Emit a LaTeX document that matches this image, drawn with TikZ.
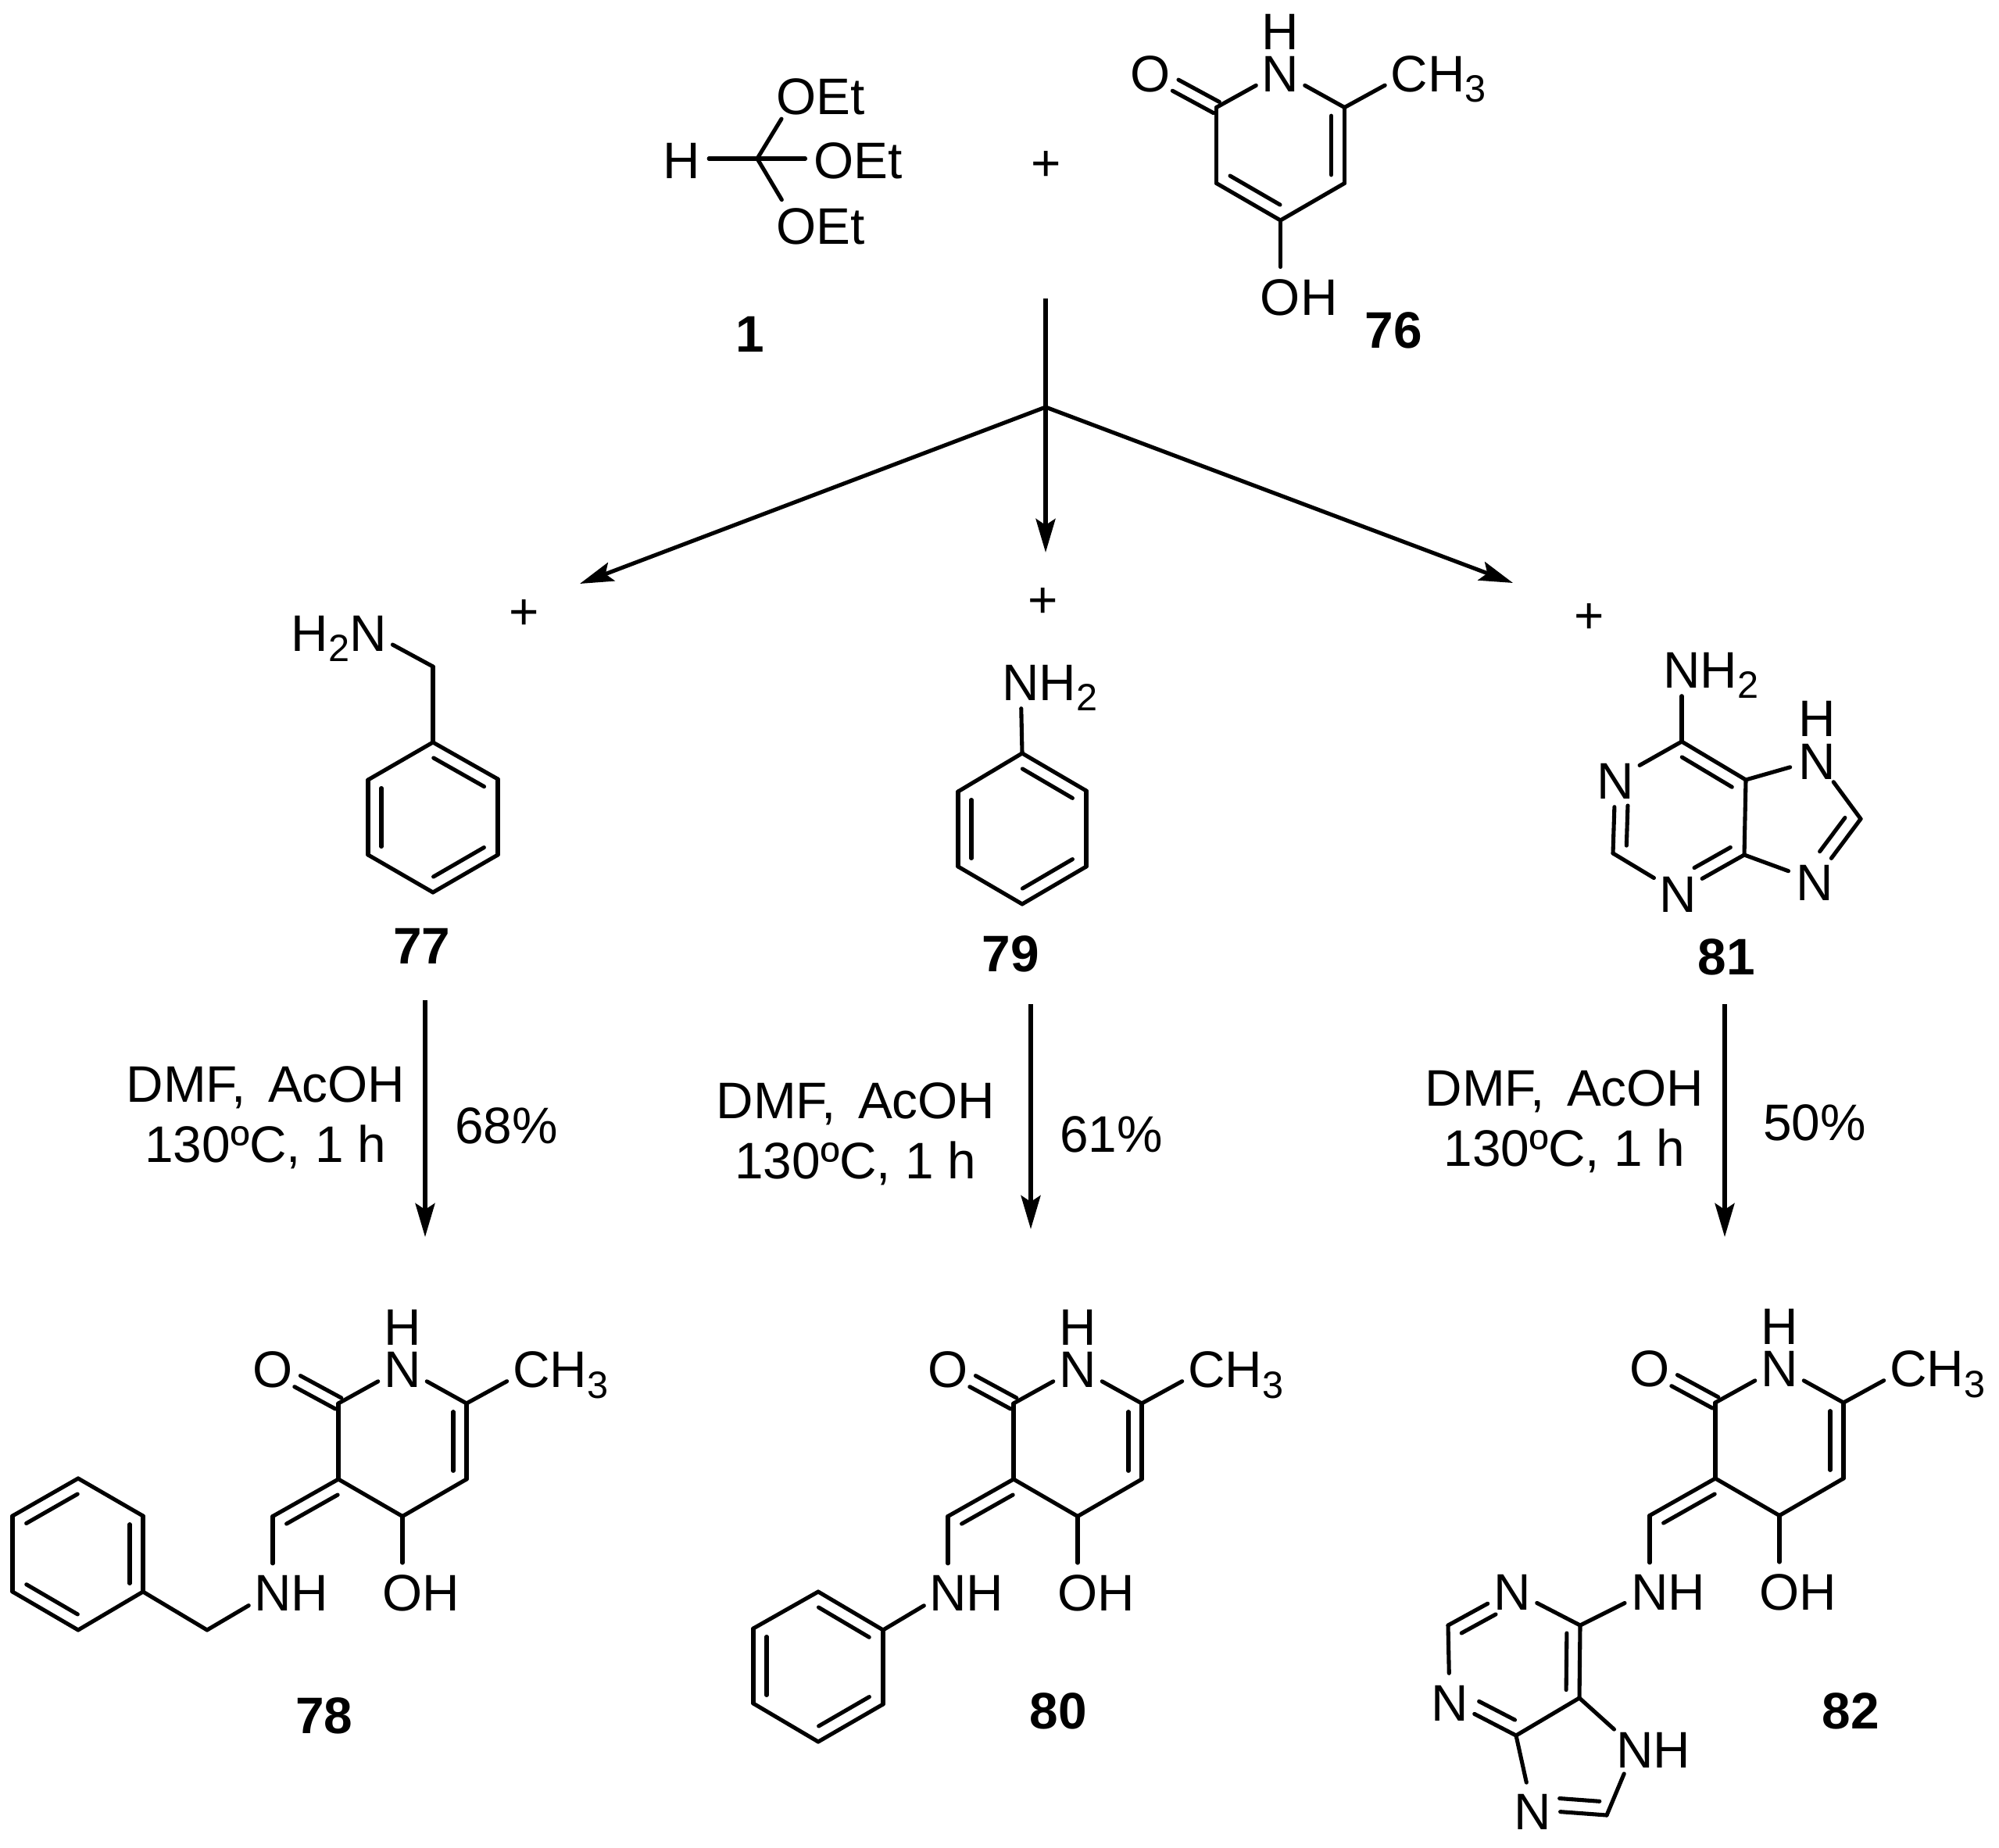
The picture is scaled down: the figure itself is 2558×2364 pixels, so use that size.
\documentclass[tikz,border=0pt]{standalone}
\usepackage{fontspec}
\setmainfont{Liberation Sans}
\usetikzlibrary{arrows.meta,calc}
\newcommand{\atomtail}[1]{\rlap{\smash{#1}}}
\newcommand{\atomhead}[1]{\llap{\smash{#1}}}
\newcommand{\atomsub}[1]{\raisebox{-0.21em}{\scalebox{0.74}{#1}}}
\newcommand{\innerbond}[3][]{\path ($(#2)!0.11!(#3)!1.7mm!90:(#3)$) edge[bond,#1] ($(#3)!0.11!(#2)!1.7mm!-90:(#2)$);}
\tikzset{
    %Define standard arrow tip
    >={Stealth[length=4.3mm,width=2.5mm,inset=0.8mm]},
    %Define style for atoms and labels
    atom/.style={
             circle, inner sep=0pt, minimum size=7mm,
             text height=5mm, text depth=0pt,
             font=\fontsize{18.7}{21.5}\selectfont},
    plain/.style={
             inner sep=0pt,
             text height=5mm, text depth=0pt,
             font=\fontsize{18.7}{21.5}\selectfont},
    cpdlabel/.style={
             inner sep=0pt,
             text height=5mm, text depth=0pt,
             font=\fontsize{18.7}{21.5}\selectfont\bfseries},
    condlabel/.style={
             inner sep=0pt, align=center,
             font=\fontsize{18.7}{22}\selectfont},
    % Define bond and arrow style
    bond/.style={
            line width=1.45pt,
            line cap=round},
    fromhetero/.style={shorten <=2.3mm},
    reactline/.style={
            line width=1.45pt},
    reactarrow/.style={
            ->,
            line width=1.45pt},
    % Define repeating ring
    pyridone/.pic={
        \coordinate (-c2) at (-82,-48.5);
        \coordinate (-c3) at (-82,48.5);
        \coordinate (-c4) at (0,96);
        \coordinate (-c5) at (82,48.5);
        \coordinate (-c6) at (82,-48.5);
        \node[atom] (-n1) at (0,-94) {N};
        \node[plain] (-h1) at (0,-148) {H};
        \node[atom] (-o2) at (-166,-94) {O};
        \node[atom] (-me) at (165,-94) {C\atomtail{H\atomsub{3}}};
        \node[atom] (-oh) at (0,192) {O\atomtail{H}};
        \path (-c2) edge[bond] (-c3)
              (-c3) edge[bond] (-c4)
              (-c4) edge[bond] (-c5)
              (-c5) edge[bond] (-c6)
              (-c6) edge[bond] (-n1)
              (-c2) edge[bond] (-n1)
              (-c6) edge[bond] (-me)
              (-c4) edge[bond] (-oh);
        \innerbond{-c5}{-c6}
        \path ($(-c2)!0.8mm!90:(-o2)$) edge[bond,shorten >=3.6mm] ($(-o2)!0.8mm!-90:(-c2)$)
              ($(-c2)!0.8mm!-90:(-o2)$) edge[bond,shorten >=3.6mm] ($(-o2)!0.8mm!90:(-c2)$);
    },
    enamine/.pic={
        \coordinate (-exo) at (-166,96);
        \node[atom] (-nh) at (-166,192) {N\atomtail{H}};
        \path (-c3) edge[bond] (-exo)
              (-exo) edge[bond] (-nh);
        \innerbond{-c3}{-exo}
    }
}
\begin{document}
\begin{tikzpicture}[x=0.01cm, y=-0.01cm]
 \useasboundingbox (0,0) rectangle (2558,2364);
 %top row
 \coordinate (ch) at (969,203);
 \node[atom, minimum size=5.4mm] (hc) at (872,203) {H};
 \node[atom] (oet1) at (1019,121) {O\atomtail{Et}};
 \node[atom] (oet2) at (1067,203) {O\atomtail{Et}};
 \node[atom] (oet3) at (1019,287) {O\atomtail{Et}};
 \node[cpdlabel] (cpd1) at (960,425) {1};
 \node[plain] (plustop) at (1339,206) {+};
 \pic (p76) at (1638.5,186) {pyridone};
 \node[cpdlabel] (cpd76) at (1783,420) {76};
 \path (ch) edge[bond] (hc)
       (ch) edge[bond] (oet1)
       (ch) edge[bond] (oet2)
       (ch) edge[bond] (oet3);
 \innerbond{p76-c3}{p76-c4}
 %branching arrows
 \coordinate (stem) at (1338,382);
 \coordinate (fork) at (1338,521);
 \coordinate (tipleft) at (742,747);
 \coordinate (tipmid) at (1338,707);
 \coordinate (tipright) at (1936,746);
 \path (stem) edge[reactline] (fork)
       (fork) edge[reactarrow] (tipleft)
       (fork) edge[reactarrow] (tipmid)
       (fork) edge[reactarrow] (tipright);
 \node[plain] (plusleft) at (671,780) {+};
 \node[plain] (plusmid) at (1335,765) {+};
 \node[plain] (plusright) at (2034,785) {+};
 %benzylamine
 \node[atom] (n77) at (471,808) {\atomhead{H\atomsub{2}}N};
 \coordinate (ch77) at (554,853);
 \coordinate (a771) at (554,950);
 \coordinate (a772) at (637,997);
 \coordinate (a773) at (637,1094);
 \coordinate (a774) at (554,1142);
 \coordinate (a775) at (471,1094);
 \coordinate (a776) at (471,998);
 \node[cpdlabel] (cpd77) at (540,1208) {77};
 \path (n77) edge[bond] (ch77)
       (ch77) edge[bond] (a771)
       (a771) edge[bond] (a772)
       (a772) edge[bond] (a773)
       (a773) edge[bond] (a774)
       (a774) edge[bond] (a775)
       (a775) edge[bond] (a776)
       (a776) edge[bond] (a771);
 \innerbond{a772}{a771}
 \innerbond{a776}{a775}
 \innerbond{a774}{a773}
 %aniline
 \node[atom] (n79) at (1306,871) {N\atomtail{H\atomsub{2}}};
 \coordinate (a791) at (1308,964);
 \coordinate (a792) at (1390,1012);
 \coordinate (a793) at (1390,1109);
 \coordinate (a794) at (1308,1157);
 \coordinate (a795) at (1226,1109);
 \coordinate (a796) at (1226,1013);
 \node[cpdlabel] (cpd79) at (1293,1218) {79};
 \path (a791) edge[bond] (n79)
       (a791) edge[bond] (a792)
       (a792) edge[bond] (a793)
       (a793) edge[bond] (a794)
       (a794) edge[bond] (a795)
       (a795) edge[bond] (a796)
       (a796) edge[bond] (a791);
 \innerbond{a792}{a791}
 \innerbond{a796}{a795}
 \innerbond{a794}{a793}
 %adenine
 \node[atom] (n81) at (2152,855) {N\atomtail{H\atomsub{2}}};
 \coordinate (c816) at (2152,949);
 \node[atom] (n811) at (2067,997) {N};
 \coordinate (c812) at (2064,1092);
 \node[atom] (n813) at (2147,1142) {N};
 \coordinate (c814) at (2232,1094);
 \coordinate (c815) at (2234,998);
 \node[atom] (n817) at (2325,972) {N};
 \node[plain] (h817) at (2325,917) {H};
 \coordinate (c818) at (2381,1048);
 \node[atom] (n819) at (2322,1127) {N};
 \node[cpdlabel] (cpd81) at (2209,1222) {81};
 \path (c816) edge[bond] (n81)
       (c816) edge[bond] (n811)
       (n811) edge[bond] (c812)
       (c812) edge[bond] (n813)
       (n813) edge[bond] (c814)
       (c814) edge[bond] (c815)
       (c815) edge[bond] (c816)
       (c815) edge[bond] (n817)
       (n817) edge[bond] (c818)
       (c818) edge[bond] (n819)
       (n819) edge[bond] (c814);
 \innerbond{c815}{c816}
 \innerbond[fromhetero]{n811}{c812}
 \innerbond[fromhetero]{n813}{c814}
 \innerbond[fromhetero]{n819}{c818}
 %reaction arrows
 \coordinate (start78) at (544,1280);
 \coordinate (end78) at (544,1583);
 \coordinate (start80) at (1319,1285);
 \coordinate (end80) at (1319,1573);
 \coordinate (start82) at (2207,1285);
 \coordinate (end82) at (2207,1583);
 \path (start78) edge[reactarrow] (end78)
       (start80) edge[reactarrow] (end80)
       (start82) edge[reactarrow] (end82);
 \node[condlabel] (cond78) at (340,1430) {DMF,\hspace{0.15em} AcOH\\130ºC, 1 h};
 \node[condlabel] (cond80) at (1095,1451) {DMF,\hspace{0.15em} AcOH\\130ºC, 1 h};
 \node[condlabel] (cond82) at (2002,1435) {DMF,\hspace{0.15em} AcOH\\130ºC, 1 h};
 \node[plain] (yield78) at (648,1438) {68\%};
 \node[plain] (yield80) at (1422,1449) {61\%};
 \node[plain] (yield82) at (2322,1434) {50\%};
 %product 78
 \pic (p78) at (515,1844.5) {pyridone};
 \pic (p78) at (515,1844.5) {enamine};
 \coordinate (ch78) at (265,2086);
 \coordinate (b781) at (183,2037);
 \coordinate (b782) at (183,1940);
 \coordinate (b783) at (100,1892);
 \coordinate (b784) at (16,1940);
 \coordinate (b785) at (16,2037);
 \coordinate (b786) at (100,2086);
 \node[cpdlabel] (cpd78) at (415,2193) {78};
 \path (p78-nh) edge[bond] (ch78)
       (ch78) edge[bond] (b781)
       (b781) edge[bond] (b782)
       (b782) edge[bond] (b783)
       (b783) edge[bond] (b784)
       (b784) edge[bond] (b785)
       (b785) edge[bond] (b786)
       (b786) edge[bond] (b781);
 \innerbond{b781}{b782}
 \innerbond{b783}{b784}
 \innerbond{b785}{b786}
 %product 80
 \pic (p80) at (1379,1844.5) {pyridone};
 \pic (p80) at (1379,1844.5) {enamine};
 \coordinate (b801) at (1130,2086);
 \coordinate (b802) at (1047,2037);
 \coordinate (b803) at (964,2084);
 \coordinate (b804) at (964,2180);
 \coordinate (b805) at (1047,2229);
 \coordinate (b806) at (1130,2181);
 \node[cpdlabel] (cpd80) at (1354,2187) {80};
 \path (p80-nh) edge[bond] (b801)
       (b801) edge[bond] (b802)
       (b802) edge[bond] (b803)
       (b803) edge[bond] (b804)
       (b804) edge[bond] (b805)
       (b805) edge[bond] (b806)
       (b806) edge[bond] (b801);
 \innerbond{b801}{b802}
 \innerbond{b803}{b804}
 \innerbond{b805}{b806}
 %product 82
 \pic (p82) at (2277,1843.5) {pyridone};
 \pic (p82) at (2277,1843.5) {enamine};
 \coordinate (c826) at (2022,2080);
 \node[atom] (n821) at (1935,2035) {N};
 \coordinate (c822) at (1853,2080);
 \node[atom] (n823) at (1855,2177) {N};
 \coordinate (c824) at (1940,2221);
 \coordinate (c825) at (2021,2173);
 \node[atom] (n827) at (2092,2237) {N\atomtail{H}};
 \coordinate (c828) at (2056,2323);
 \node[atom] (n829) at (1961,2316) {N};
 \node[cpdlabel] (cpd82) at (2368,2187) {82};
 \path (p82-nh) edge[bond] (c826)
       (c826) edge[bond] (n821)
       (n821) edge[bond] (c822)
       (c822) edge[bond] (n823)
       (n823) edge[bond] (c824)
       (c824) edge[bond] (c825)
       (c825) edge[bond] (c826)
       (c825) edge[bond] (n827)
       (n827) edge[bond] (c828)
       (c828) edge[bond] (n829)
       (n829) edge[bond] (c824);
 \innerbond[fromhetero]{n821}{c822}
 \innerbond[fromhetero]{n823}{c824}
 \innerbond{c825}{c826}
 \innerbond[fromhetero]{n829}{c828}
\end{tikzpicture}
\end{document}
